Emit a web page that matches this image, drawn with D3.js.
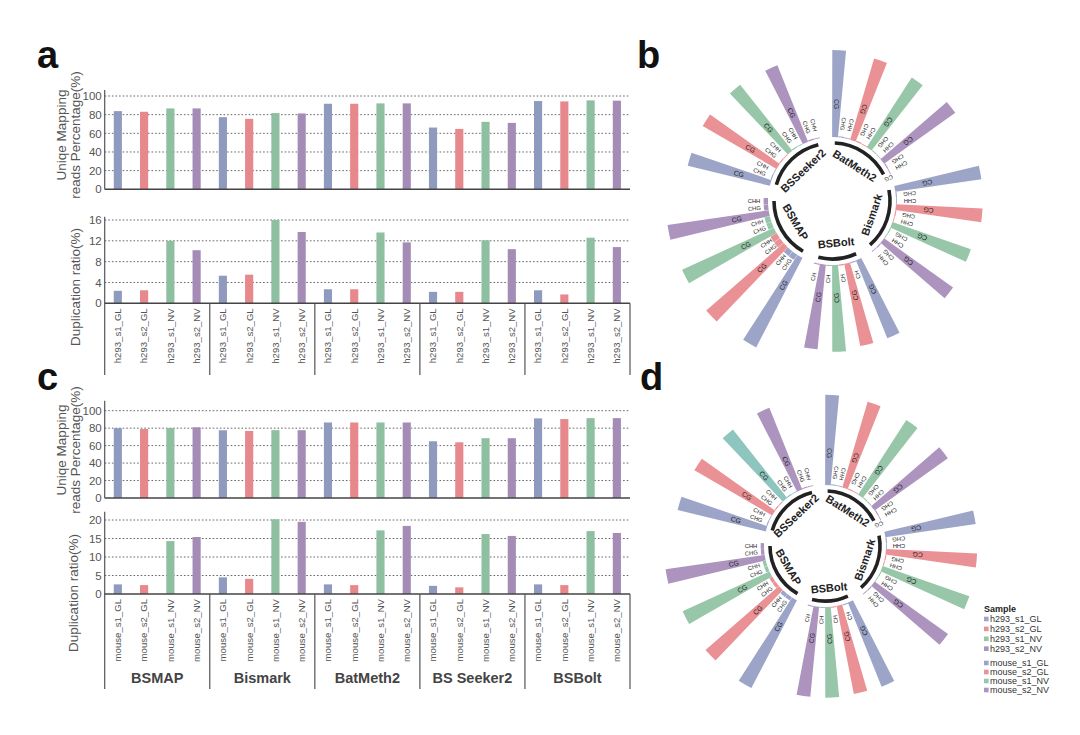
<!DOCTYPE html>
<html>
<head>
<meta charset="utf-8">
<script src="https://cdn.jsdelivr.net/npm/d3@7"></script>
<style>
  body { margin: 0; background: #fff; }
  svg text { font-family: "Liberation Sans", Arial, sans-serif; }
</style>
</head>
<body>
<svg id="fig" width="1080" height="735"></svg>
<script>
// ---- bar chart data (panels a, c) ----
const barTools = ["BSMAP", "Bismark", "BatMeth2", "BS Seeker2", "BSBolt"];
const h293Samples = ["h293_s1_GL", "h293_s2_GL", "h293_s1_NV", "h293_s2_NV"];
const mouseSamples = ["mouse_s1_GL", "mouse_s2_GL", "mouse_s1_NV", "mouse_s2_NV"];

const h293Unique = [[83.8, 83.1, 86.7, 86.7], [77.3, 75.5, 81.7, 81.3], [91.7, 91.7, 92.1, 92.1], [66.2, 64.7, 72.3, 71.2], [94.6, 94.2, 95.3, 95.0]];
const h293Dup = [[2.4, 2.5, 12.0, 10.2], [5.3, 5.5, 16.0, 13.7], [2.7, 2.7, 13.6, 11.7], [2.2, 2.2, 12.1, 10.4], [2.5, 1.7, 12.6, 10.8]];
const mouseUnique = [[80.0, 79.0, 80.2, 81.0], [77.6, 76.8, 77.7, 77.7], [86.5, 86.5, 86.5, 86.5], [65.0, 63.8, 68.5, 68.5], [91.2, 90.4, 91.5, 91.5]];
const mouseDup = [[2.6, 2.4, 14.3, 15.4], [4.5, 4.1, 20.2, 19.5], [2.6, 2.4, 17.2, 18.4], [2.2, 1.8, 16.2, 15.7], [2.6, 2.4, 17.0, 16.5]];

const uniqueTicks = [0, 20, 40, 60, 80, 100];
const h293DupTicks = [0, 4, 8, 12, 16];
const mouseDupTicks = [0, 5, 10, 15, 20];

// ---- circular chart data (panels b, d) ----
const circTools = ["BatMeth2", "Bismark", "BSBolt", "BSMAP", "BSSeeker2"];
const circContexts = [["CG", "CHG", "CHH"], ["CG", "CHG", "CHH"], ["CG", "CH"], ["CG", "CHG", "CHH"], ["CG", "CHG", "CHH"]];
const h293CG = [[79.1, 76.8, 75.5, 79.6], [79.1, 78.8, 75.5, 77.1], [76.4, 76.2, 78.9, 77.3], [91.7, 93.4, 91.8, 92.9], [76.9, 77.7, 76.6, 74.8]];
const h293NonCG = [
  [[1.0, 0.8], [1.0, 0.8], [1.0, 0.8], [1.0, 0.8]],
  [[1.0, 0.8], [1.0, 0.8], [1.0, 0.8], [1.0, 0.8]],
  [[1.0], [1.0], [1.0], [1.0]],
  [[5.5, 5.5], [6.5, 6.5], [5.0, 5.0], [4.0, 4.0]],
  [[1.0, 0.8], [1.0, 0.8], [1.0, 0.8], [1.0, 0.8]]
];
const mouseCG = [[82.0, 81.2, 80.9, 81.8], [83.0, 83.0, 83.5, 82.0], [82.4, 81.7, 82.5, 82.3], [90.0, 88.5, 87.0, 91.0], [82.5, 81.8, 79.6, 80.0]];
const mouseNonCG = [
  [[1.0, 0.8], [1.0, 0.8], [1.0, 0.8], [1.0, 0.8]],
  [[1.0, 0.8], [1.0, 0.8], [1.0, 0.8], [1.0, 0.8]],
  [[1.0], [1.0], [1.0], [1.0]],
  [[3.5, 3.5], [3.0, 3.0], [3.0, 3.0], [3.0, 3.0]],
  [[1.0, 0.8], [1.0, 0.8], [1.0, 0.8], [1.0, 0.8]]
];
const strayLabel = { afterTool: "BatMeth2", text: "CG" };

const barColors = ["#8f9bbe", "#e7888c", "#8dbfa0", "#a48cb6"];
const circColors = ["#9ca5c8", "#ea9195", "#97c6a8", "#ac94bf"];

const svg = d3.select("#fig");

// panel letters
[["a", 37, 68], ["b", 637, 68], ["c", 37, 390], ["d", 640, 390]].forEach(([t, x, y]) => {
  svg.append("text").attr("x", x).attr("y", y).text(t)
    .attr("font-size", 38).attr("font-weight", "bold").attr("fill", "#111");
});

const X0 = 104.7, X1 = 630;

function drawBarPanel(p) {
  const g = svg.append("g");
  const items = [];
  barTools.forEach((t, ti) => p.samples.forEach((s, si) => {
    items.push({ ti, si, s, u: p.unique[ti][si], d: p.dup[ti][si] });
  }));
  const x = d3.scaleBand().domain(d3.range(items.length)).range([X0, X1])
    .paddingInner(0.69).paddingOuter(0.345);
  const groupW = (X1 - X0) / barTools.length;

  const yU = d3.scaleLinear().domain([0, 100]).range([p.uy0, p.uy1]);
  const yD = d3.scaleLinear().domain([0, p.dupTicks[p.dupTicks.length - 1]]).range([p.dy0, p.dy1]);

  function grid(y, ticks) {
    g.append("g").selectAll("line").data(ticks.filter(t => t > 0)).join("line")
      .attr("x1", X0).attr("x2", X1)
      .attr("y1", d => y(d)).attr("y2", d => y(d))
      .attr("stroke", "#666").attr("stroke-width", 1).attr("stroke-dasharray", "1.6,2");
  }
  function yAxis(y, ticks) {
    const a = g.append("g").attr("transform", `translate(${X0},0)`)
      .call(d3.axisLeft(y).tickValues(ticks).tickSize(0).tickPadding(3));
    a.select(".domain").remove();
    a.selectAll("text").attr("font-size", 11.5).attr("fill", "#555")
      .style("font-family", '"Liberation Sans", Arial, sans-serif');
  }

  // top: unique mapping
  grid(yU, uniqueTicks);
  g.append("g").selectAll("rect").data(items).join("rect")
    .attr("x", (d, i) => x(i)).attr("width", x.bandwidth())
    .attr("y", d => yU(d.u)).attr("height", d => yU(0) - yU(d.u))
    .attr("fill", d => barColors[d.si]);
  yAxis(yU, uniqueTicks);
  g.append("line").attr("x1", X0).attr("x2", X0).attr("y1", p.uTop).attr("y2", yU(0))
    .attr("stroke", "#555").attr("stroke-width", 1.2);
  g.append("line").attr("x1", X0).attr("x2", X1).attr("y1", yU(0)).attr("y2", yU(0))
    .attr("stroke", "#444").attr("stroke-width", 1.5);

  // bottom: duplication
  grid(yD, p.dupTicks);
  g.append("g").selectAll("rect").data(items).join("rect")
    .attr("x", (d, i) => x(i)).attr("width", x.bandwidth())
    .attr("y", d => yD(d.d)).attr("height", d => yD(0) - yD(d.d))
    .attr("fill", d => barColors[d.si]);
  yAxis(yD, p.dupTicks);
  g.append("line").attr("x1", X0).attr("x2", X0).attr("y1", p.dTop).attr("y2", p.bottom)
    .attr("stroke", "#555").attr("stroke-width", 1.2);
  g.append("line").attr("x1", X0).attr("x2", X1).attr("y1", yD(0)).attr("y2", yD(0))
    .attr("stroke", "#444").attr("stroke-width", 1.5);
  g.append("g").selectAll("line").data(d3.range(1, barTools.length + 1)).join("line")
    .attr("x1", k => X0 + k * groupW).attr("x2", k => X0 + k * groupW)
    .attr("y1", yD(0)).attr("y2", p.bottom)
    .attr("stroke", "#555").attr("stroke-width", 1.2);

  // sample labels
  g.append("g").selectAll("text").data(items).join("text")
    .attr("transform", (d, i) => `translate(${x(i) + x.bandwidth() / 2 + 3.4},${yD(0) + 5}) rotate(-90)`)
    .attr("text-anchor", "end").attr("font-size", 9.6).attr("fill", "#555")
    .text(d => d.s);

  if (p.toolRow) {
    g.append("g").selectAll("text").data(barTools).join("text")
      .attr("x", (d, i) => X0 + (i + 0.5) * groupW).attr("y", p.toolY)
      .attr("text-anchor", "middle").attr("font-size", 14.5).attr("font-weight", "bold")
      .attr("fill", "#444").text(d => d);
  }

  // axis titles
  g.append("text").attr("transform", `translate(66,${p.uTitleY}) rotate(-90)`)
    .attr("text-anchor", "middle").attr("font-size", 13.5).attr("fill", "#555")
    .text("Uniqe Mapping");
  g.append("text").attr("transform", `translate(80,${p.uTitleY}) rotate(-90)`)
    .attr("text-anchor", "middle").attr("font-size", 13.5).attr("fill", "#555")
    .text("reads Percentage(%)");
  g.append("text").attr("transform", `translate(${p.dTitleX},${p.dTitleY}) rotate(-90)`)
    .attr("text-anchor", "middle").attr("font-size", 13.5).attr("fill", "#555")
    .text("Duplication ratio(%)");
}

drawBarPanel({
  samples: h293Samples, unique: h293Unique, dup: h293Dup, dupTicks: h293DupTicks,
  uy0: 189.3, uy1: 96, uTop: 90, dy0: 303.3, dy1: 220, dTop: 216.7, bottom: 375,
  toolRow: false, uTitleY: 135, dTitleX: 80, dTitleY: 287
});
drawBarPanel({
  samples: mouseSamples, unique: mouseUnique, dup: mouseDup, dupTicks: mouseDupTicks,
  uy0: 498, uy1: 410.7, uTop: 400.7, dy0: 594, dy1: 520, dTop: 511.7, bottom: 689,
  toolRow: true, toolY: 683, uTitleY: 450, dTitleX: 78, dTitleY: 593
});

// ---- circular bar charts ----
function drawCircle(c) {
  const g = svg.append("g").attr("transform", `translate(${c.cx},${c.cy})`);
  const rows = [];
  circTools.forEach((t, ti) => {
    c.samples.forEach((s, si) => {
      circContexts[ti].forEach((ctx, ci) => {
        const v = ci === 0 ? c.cg[ti][si] : c.nonCG[ti][si][ci - 1];
        rows.push({ id: rows.length, tool: t, ti, si, ctx, v });
      });
    });
    rows.push({ id: rows.length, gap: true, ti, after: t });
    rows.push({ id: rows.length, gap: true, ti });
  });
  const x = d3.scaleBand().domain(rows.map(d => d.id)).range([0, 2 * Math.PI])
    .paddingInner(0.04).paddingOuter(0.02);
  const y = d3.scaleLinear().domain([0, 100]).range([c.r0, c.r0 + 110]);
  const mid = d => x(d.id) + x.bandwidth() / 2;
  const bars = rows.filter(d => !d.gap);

  const arc = d3.arc()
    .innerRadius(c.r0)
    .outerRadius(d => y(d.v))
    .startAngle(d => x(d.id))
    .endAngle(d => x(d.id) + x.bandwidth());

  g.append("g").selectAll("path").data(bars).join("path")
    .attr("d", arc)
    .attr("fill", d => (c.teal && d.tool === c.teal[0] && d.si === c.teal[1]) ? "#8ec5bf" : circColors[d.si]);

  // context labels
  const pos = (a, r) => [Math.sin(a) * r, -Math.cos(a) * r];
  g.append("g").selectAll("text").data(bars).join("text")
    .attr("transform", d => {
      const a = mid(d);
      const [px, py] = pos(a, d.ctx === "CG" ? c.rCG : c.rCH);
      return `translate(${px},${py}) rotate(${a * 180 / Math.PI + 90})`;
    })
    .attr("text-anchor", "middle").attr("dominant-baseline", "central")
    .attr("font-size", d => d.ctx === "CG" ? 6.8 : 5.8).attr("fill", "#222")
    .text(d => d.ctx);

  // stray label in the gap
  const stray = rows.find(d => d.gap && d.after === strayLabel.afterTool);
  const sa = mid(stray);
  const [sx, sy] = pos(sa, c.r0 - 3);
  g.append("text").attr("transform", `translate(${sx},${sy}) rotate(${sa * 180 / Math.PI + 90})`)
    .attr("text-anchor", "middle").attr("dominant-baseline", "central")
    .attr("font-size", 5.8).attr("fill", "#222").text(strayLabel.text);

  // group arcs + labels
  const groups = circTools.map((t, ti) => {
    const rs = bars.filter(d => d.ti === ti);
    return { t, a0: mid(rs[0]), a1: mid(rs[rs.length - 1]) };
  });
  g.append("g").selectAll("path").data(groups).join("path")
    .attr("d", d3.arc().innerRadius(c.rArc - 1.8).outerRadius(c.rArc + 1.8)
      .startAngle(d => d.a0).endAngle(d => d.a1))
    .attr("fill", "#222");
  g.append("g").selectAll("text").data(groups).join("text")
    .attr("transform", d => {
      const a = (d.a0 + d.a1) / 2;
      const deg = a * 180 / Math.PI;
      const [px, py] = pos(a, c.rLab);
      const rot = (deg > 90 && deg < 270) ? deg - 180 : deg;
      return `translate(${px},${py}) rotate(${rot})`;
    })
    .attr("text-anchor", "middle").attr("dominant-baseline", "central")
    .attr("font-size", 11).attr("font-weight", "bold").attr("fill", "#222")
    .text(d => d.t);
}

drawCircle({ cx: 832, cy: 201, r0: 64, rArc: 58, rLab: 42, rCG: 97, rCH: 78,
  samples: h293Samples, cg: h293CG, nonCG: h293NonCG });
drawCircle({ cx: 825, cy: 546, r0: 61, rArc: 55, rLab: 42, rCG: 93, rCH: 74,
  samples: mouseSamples, cg: mouseCG, nonCG: mouseNonCG, teal: ["BSSeeker2", 2] });

// ---- legend ----
const lg = svg.append("g").attr("transform", "translate(984,606)");
lg.append("text").attr("x", 0).attr("y", 6).text("Sample")
  .attr("font-size", 9).attr("font-weight", "bold").attr("fill", "#222");
const legendItems = h293Samples.map((s, i) => ({ s, i, y: 13 + i * 9.9 }))
  .concat(mouseSamples.map((s, i) => ({ s, i, y: 57 + i * 9 })));
const li = lg.selectAll("g.item").data(legendItems).join("g").attr("class", "item")
  .attr("transform", d => `translate(0,${d.y})`);
li.append("rect").attr("x", 0).attr("y", -2.3).attr("width", 4.6).attr("height", 4.6)
  .attr("fill", d => circColors[d.i]);
li.append("text").attr("x", 6).attr("y", 0).attr("dominant-baseline", "central")
  .attr("font-size", 9).attr("fill", "#333").text(d => d.s);
</script>
</body>
</html>
